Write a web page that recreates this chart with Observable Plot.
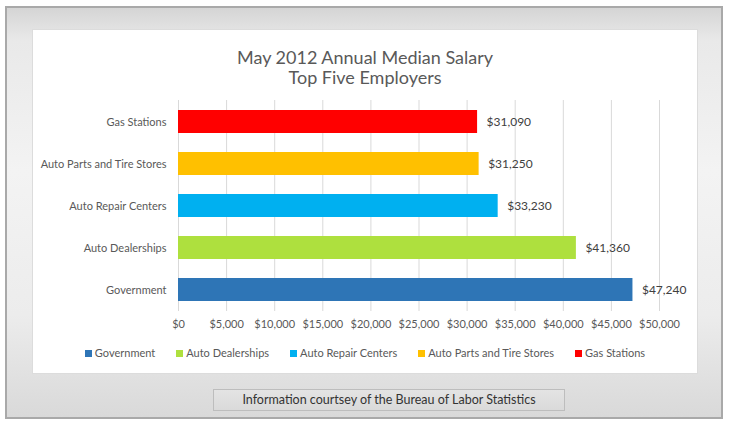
<!DOCTYPE html>
<html>
<head>
<meta charset="utf-8">
<script src="https://cdn.jsdelivr.net/npm/d3@7"></script>
<script src="https://cdn.jsdelivr.net/npm/@observablehq/plot@0.6"></script>
<style>
  html, body { margin: 0; padding: 0; background: #ffffff; width: 729px; height: 426px; overflow: hidden; font-family: Lato, "Open Sans", sans-serif; }
  #frame { position: absolute; left: 5px; top: 6px; width: 714px; height: 409px; border: 2px solid #a9a9a9;
    background: linear-gradient(to bottom, #d5d5d5 0%, #e9e9e9 8%, #f3f3f3 40%, #ececec 75%, #d9d9d9 100%); }
  #panel { position: absolute; left: 32px; top: 29px; width: 664px; height: 343px; background: #ffffff; border: 1px solid #dcdcdc; }
  #title { position: absolute; left: 32px; width: 666px; top: 47px; text-align: center; font-size: 18px; line-height: 20px; color: #595959; }
  #chart { position: absolute; left: 32px; top: 90px; }
  #legend { position: absolute; left: 32px; width: 666px; top: 345px; display: flex; justify-content: center; gap: 21px; font-size: 11px; color: #595959; line-height: 16px; }
  #legend .item { display: flex; align-items: center; }
  #legend .sw { width: 7px; height: 7px; margin-right: 3px; display: inline-block; }
  #caption { position: absolute; left: 213px; top: 389px; width: 350px; height: 20px; border: 1px solid #bdbdbd;
    background: linear-gradient(to bottom, #e4e4e4, #dadada); text-align: center; font-size: 12.5px; line-height: 20px; color: #333333; }
</style>
</head>
<body>
<div id="frame"></div>
<div id="panel"></div>
<div id="title">May 2012 Annual Median Salary<br>Top Five Employers</div>
<div id="chart"></div>
<div id="legend"></div>
<div id="caption">Information courtsey of the Bureau of Labor Statistics</div>
<script>
// Data (top-to-bottom order as drawn)
const categories = ["Gas Stations", "Auto Parts and Tire Stores", "Auto Repair Centers", "Auto Dealerships", "Government"];
const salaries = [31090, 31250, 33230, 41360, 47240];
const xTicks = [0, 5000, 10000, 15000, 20000, 25000, 30000, 35000, 40000, 45000, 50000];
const legendOrder = ["Government", "Auto Dealerships", "Auto Repair Centers", "Auto Parts and Tire Stores", "Gas Stations"];
const palette = {
  "Government": "#2E75B6",
  "Auto Dealerships": "#AEE03E",
  "Auto Repair Centers": "#00B0F0",
  "Auto Parts and Tire Stores": "#FFC000",
  "Gas Stations": "#FF0000"
};

const data = categories.map((c, i) => ({category: c, salary: salaries[i]}));
const money = d => "$" + d3.format(",")(d);

const chart = Plot.plot({
  width: 665,
  height: 250,
  marginLeft: 146,
  marginRight: 38,
  marginTop: 10,
  marginBottom: 29,
  style: {background: "transparent", fontFamily: "Lato, 'Open Sans', sans-serif", fontSize: "11px", color: "#595959"},
  x: {domain: [0, 50000], ticks: xTicks, tickFormat: money, tickSize: 0, tickPadding: 9, label: null},
  y: {domain: categories, paddingInner: 0.456, paddingOuter: 0.228, tickSize: 0, tickPadding: 12, label: null},
  color: {domain: legendOrder, range: legendOrder.map(k => palette[k])},
  marks: [
    Plot.ruleX(xTicks, {stroke: "#d9d9d9", strokeWidth: 1}),
    Plot.barX(data, {y: "category", x: "salary", fill: "category"}),
    Plot.text(data, {y: "category", x: "salary", text: d => money(d.salary), textAnchor: "start", dx: 9, fill: "#404040", fontSize: 12})
  ]
});
document.getElementById("chart").appendChild(chart);

const legend = document.getElementById("legend");
legendOrder.forEach(k => {
  const item = document.createElement("div");
  item.className = "item";
  const sw = document.createElement("span");
  sw.className = "sw";
  sw.style.background = palette[k];
  item.appendChild(sw);
  item.appendChild(document.createTextNode(k));
  legend.appendChild(item);
});
</script>
</body>
</html>
